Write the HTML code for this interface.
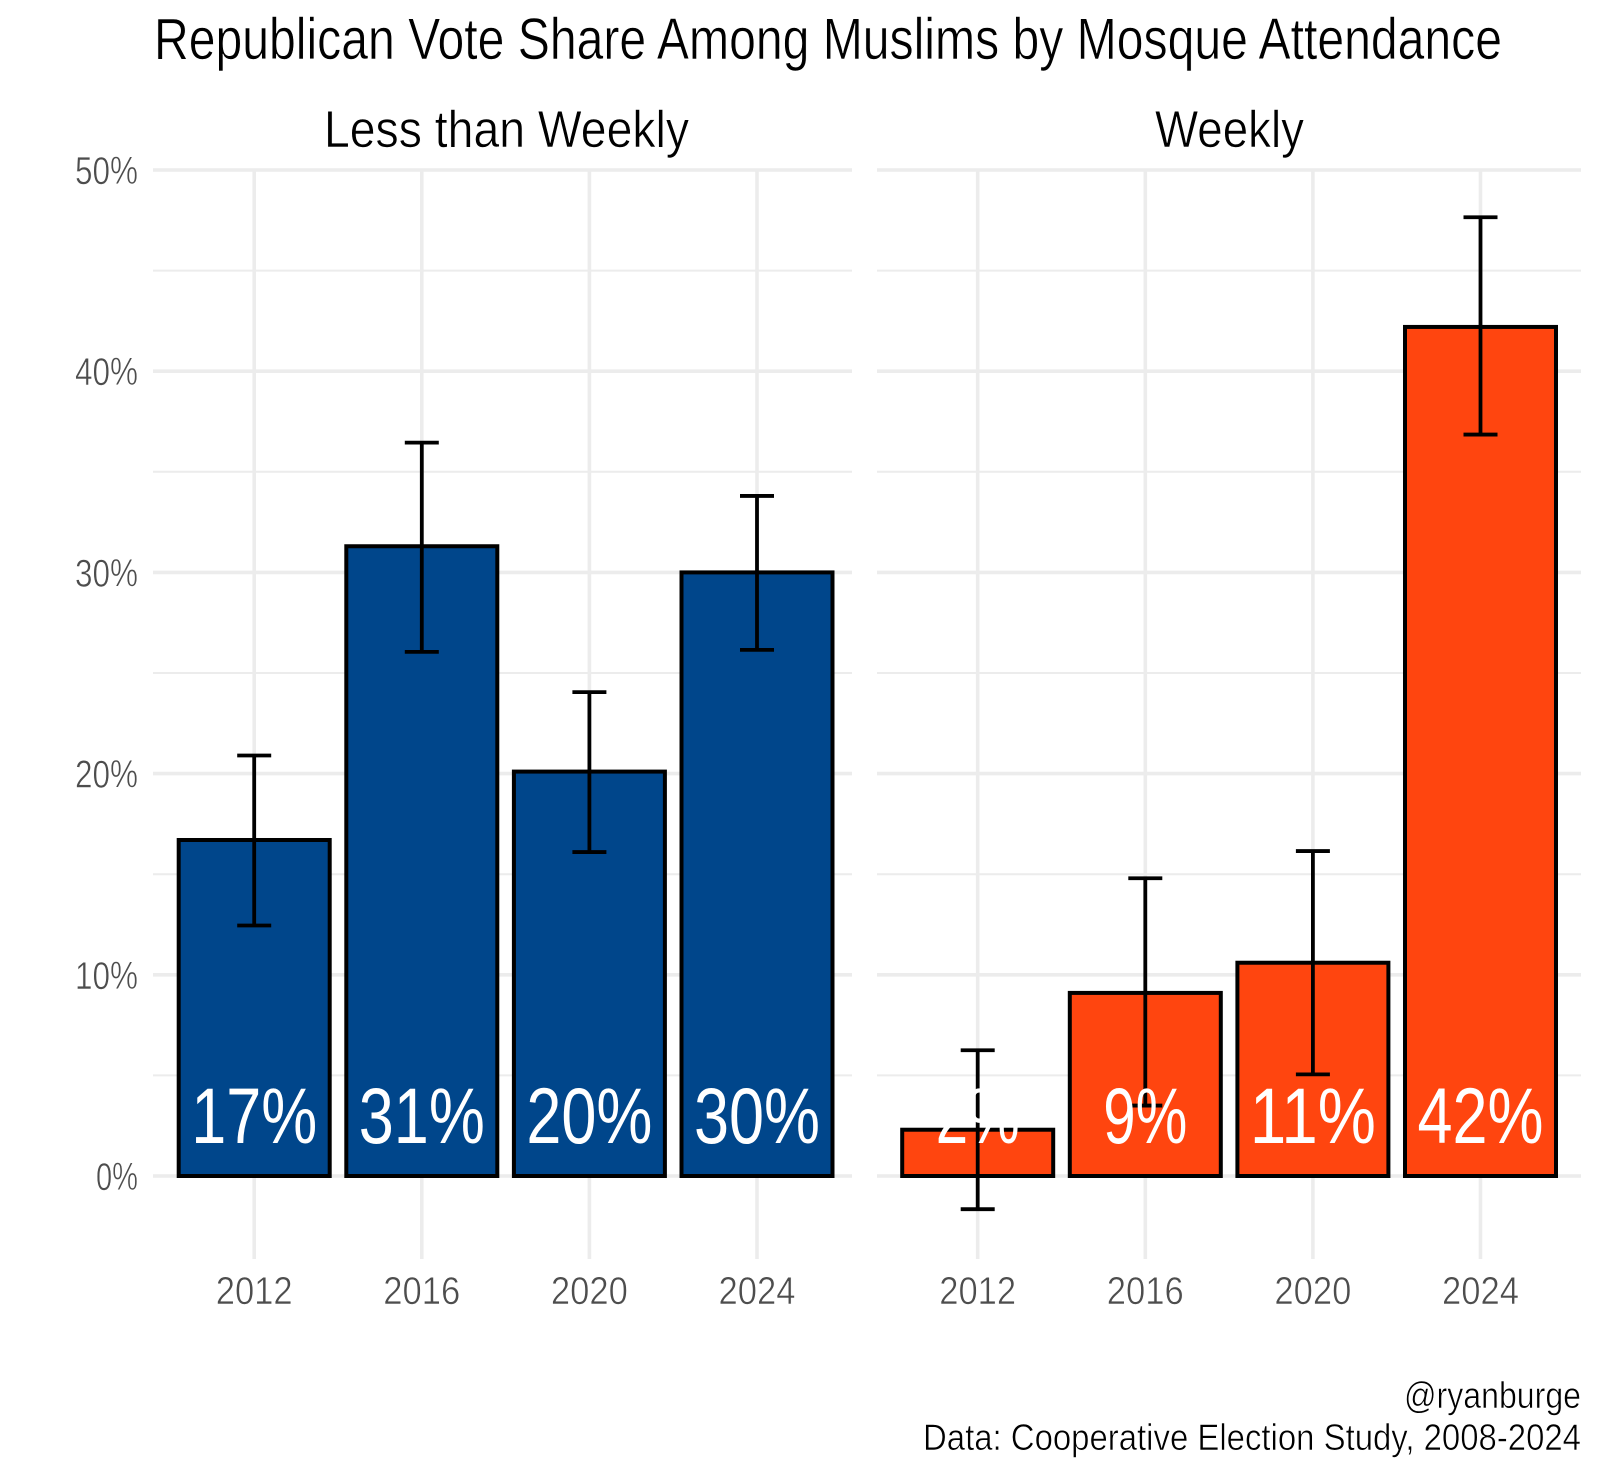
<!DOCTYPE html>
<html lang="en">
<head>
<meta charset="utf-8">
<title>Republican Vote Share Among Muslims by Mosque Attendance</title>
<style>
html,body{margin:0;padding:0;background:#fff;}
svg{display:block;}
text{font-family:"Liberation Sans Narrow","Liberation Sans",sans-serif;}
.thin{stroke:#fff;stroke-width:0.6px;}
</style>
</head>
<body>
<svg id="chart" xmlns="http://www.w3.org/2000/svg" width="1600" height="1477" viewBox="0 0 1600 1477">
<rect x="0" y="0" width="1600" height="1477" fill="#ffffff"/>
<text class="thin" x="154" y="59" font-size="58" fill="#000" textLength="1348" lengthAdjust="spacingAndGlyphs">Republican Vote Share Among Muslims by Mosque Attendance</text>
<text class="thin" x="324" y="147" font-size="52" fill="#000" textLength="365" lengthAdjust="spacingAndGlyphs">Less than Weekly</text>
<text class="thin" x="1155" y="147" font-size="52" fill="#000" textLength="149" lengthAdjust="spacingAndGlyphs">Weekly</text>
<g id="plot"></g>
<text class="thin" x="1404" y="1408" font-size="37" fill="#000" textLength="177" lengthAdjust="spacingAndGlyphs">@ryanburge</text>
<text class="thin" x="923" y="1450" font-size="37" fill="#000" textLength="658" lengthAdjust="spacingAndGlyphs">Data: Cooperative Election Study, 2008-2024</text>
</svg>
<script>
const years = [2012, 2016, 2020, 2024];
const yTicks = [0, 10, 20, 30, 40, 50];
const yMinorTicks = [5, 15, 25, 35, 45];
const lessThanWeeklyShare = [16.7, 31.3, 20.1, 30.0];
const lessThanWeeklyLow = [12.45, 26.05, 16.1, 26.15];
const lessThanWeeklyHigh = [20.9, 36.45, 24.05, 33.8];
const weeklyShare = [2.3, 9.1, 10.6, 42.2];
const weeklyLow = [-1.65, 3.5, 5.05, 36.85];
const weeklyHigh = [6.25, 14.8, 16.15, 47.65];

const NS = 'http://www.w3.org/2000/svg';
const plot = document.getElementById('plot');

function yScale(v) { return 1176 - v * 20.12; }
function xScale(panel, year) { return panel.first + (year - 2012) / 4 * 167.6; }

function line(x1, y1, x2, y2, color, width) {
  const el = document.createElementNS(NS, 'line');
  el.setAttribute('x1', x1);
  el.setAttribute('y1', y1);
  el.setAttribute('x2', x2);
  el.setAttribute('y2', y2);
  el.setAttribute('stroke', color);
  el.setAttribute('stroke-width', width);
  return el;
}
function label(str, x, y, size, color, anchor, width) {
  const el = document.createElementNS(NS, 'text');
  el.setAttribute('x', x);
  el.setAttribute('y', y);
  el.setAttribute('font-size', size);
  el.setAttribute('fill', color);
  el.setAttribute('text-anchor', anchor);
  el.setAttribute('textLength', width);
  el.setAttribute('lengthAdjust', 'spacingAndGlyphs');
  el.textContent = str;
  return el;
}

const panels = [
  { key: 'less-than-weekly', left: 153, right: 852, first: 254.2, fill: '#00468B', share: lessThanWeeklyShare, low: lessThanWeeklyLow, high: lessThanWeeklyHigh },
  { key: 'weekly', left: 877, right: 1581, first: 977.7, fill: '#FF450F', share: weeklyShare, low: weeklyLow, high: weeklyHigh }
];
const panelTop = 170;
const panelBottom = 1259;
const barWidth = 151;
const capWidth = 34;
const labelValue = 1.64;

panels.forEach(function (panel) {
  yMinorTicks.forEach(function (t) {
    const g = line(panel.left, yScale(t), panel.right, yScale(t), '#ececec', 2);
    
    
    plot.appendChild(g);
  });
  yTicks.forEach(function (t) {
    const g = line(panel.left, yScale(t), panel.right, yScale(t), '#ececec', 3.6);
    
    
    plot.appendChild(g);
  });
  years.forEach(function (yr) {
    const g = line(xScale(panel, yr), panelTop, xScale(panel, yr), panelBottom, '#ececec', 3.6);
    
    
    plot.appendChild(g);
  });
});

yTicks.forEach(function (t) {
  const str = t + '%';
  const el = label(str, 138, yScale(t) + 14, 39, '#4d4d4d', 'end', str.length * 21);
  el.setAttribute('class', 'thin');
  
  
  plot.appendChild(el);
});

panels.forEach(function (panel) {
  years.forEach(function (yr, i) {
    const cx = xScale(panel, yr);
    const top = yScale(panel.share[i]);
    const bar = document.createElementNS(NS, 'rect');
    bar.setAttribute('x', cx - barWidth / 2);
    bar.setAttribute('y', top);
    bar.setAttribute('width', barWidth);
    bar.setAttribute('height', yScale(0) - top);
    bar.setAttribute('fill', panel.fill);
    bar.setAttribute('stroke', '#000');
    bar.setAttribute('stroke-width', 4);
    
    
    plot.appendChild(bar);
  });
  years.forEach(function (yr, i) {
    const cx = xScale(panel, yr);
    const yHi = yScale(panel.high[i]);
    const yLo = yScale(panel.low[i]);
    const stem = line(cx, yHi, cx, yLo, '#000', 3.8);
    
    
    plot.appendChild(stem);
    const capHi = line(cx - capWidth / 2, yHi, cx + capWidth / 2, yHi, '#000', 3.8);
    
    
    plot.appendChild(capHi);
    const capLo = line(cx - capWidth / 2, yLo, cx + capWidth / 2, yLo, '#000', 3.8);
    
    
    plot.appendChild(capLo);
  });
  years.forEach(function (yr, i) {
    const cx = xScale(panel, yr);
    const str = Math.round(panel.share[i]) + '%';
    const val = label(str, cx, yScale(labelValue), 79, '#ffffff', 'middle', str.length * 42);
    
    
    plot.appendChild(val);
    const tick = label(String(yr), cx, 1304, 39, '#4d4d4d', 'middle', 77);
    tick.setAttribute('class', 'thin');
    
    
    plot.appendChild(tick);
  });
});
</script>
</body>
</html>
